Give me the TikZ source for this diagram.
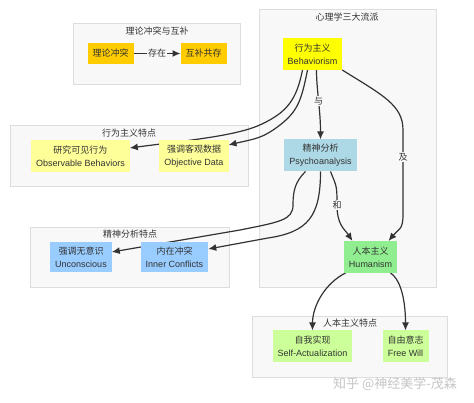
\documentclass[tikz,border=0pt]{standalone}
\usepackage{fontspec}
\setmainfont{Liberation Sans}
\newfontfamily\cjk{Noto Sans CJK SC}
\newcommand\zh[1]{{\cjk #1}}
\usetikzlibrary{positioning,calc,arrows.meta}
\definecolor{ink}{HTML}{333333}
\definecolor{gold}{HTML}{FFCC00}
\definecolor{behav}{HTML}{FFFF00}
\definecolor{psych}{HTML}{ADD8E6}
\definecolor{human}{HTML}{90EE90}
\definecolor{behavsub}{HTML}{FFFF99}
\definecolor{psychsub}{HTML}{99CCFF}
\definecolor{humansub}{HTML}{CCFF99}
\definecolor{groupfill}{HTML}{F8F8F8}
\definecolor{groupline}{HTML}{DDDDDD}
\pgfdeclarelayer{bg}
\pgfdeclarelayer{lines}
\pgfsetlayers{bg,lines,main}

\begin{document}
\begin{tikzpicture}[x=1pt,y=-1pt,
        every node/.style={text=ink,font=\fontsize{9pt}{13pt}\selectfont},
        block/.style={minimum height=21pt,inner xsep=5pt,inner ysep=2pt,outer sep=0pt,align=center},
        twoline/.style={block,minimum height=32pt},
        group/.style={draw=groupline,fill=groupfill,line width=0.6pt},
        edge/.style={draw=ink,line width=1.2pt,-{Latex[length=8pt,width=7pt]}},
        lbl/.style={fill=groupfill,inner sep=1pt}]
   \useasboundingbox (0,0) rectangle (474,403);

   % clusters
   \begin{pgfonlayer}{bg}
   \fill[white] (0,0) rectangle (474,403);
   \draw[group] (73,23) rectangle (240,84);
   \draw[group] (259,9) rectangle (436,287);
   \draw[group] (10,125) rectangle (248,186);
   \draw[group] (30,227) rectangle (229,287);
   \draw[group] (252,316) rectangle (447,377);
   \end{pgfonlayer}
   \node (G0) at (157,31) {\zh{理论冲突与互补}};
   \node (G1) at (347,17) {\zh{心理学三大流派}};
   \node (G2) at (129,133) {\zh{行为主义特点}};
   \node (G3) at (130,234) {\zh{精神分析特点}};
   \node (G4) at (350,323) {\zh{人本主义特点}};

   \node (T1) [block,fill=gold] at (110.5,53.5) {\zh{理论冲突}};
   \node (T2) [block,fill=gold] at (203.5,53.5) {\zh{互补共存}};

   \node (B) [twoline,fill=behav] at (312.5,54) {\zh{行为主义}\\Behaviorism};
   \node (P) [twoline,fill=psych] at (320.5,155.5) {\zh{精神分析}\\Psychoanalysis};
   \node (H) [twoline,fill=human] at (370.5,257) {\zh{人本主义}\\Humanism};

   \node (B1) [twoline,fill=behavsub] at (80.5,156) {\zh{研究可见行为}\\Observable Behaviors};
   \node (B2) [twoline,fill=behavsub] at (194,156) {\zh{强调客观数据}\\Objective Data};
   \node (P1) [twoline,fill=psychsub,minimum height=30pt] at (81,257) {\zh{强调无意识}\\Unconscious};
   \node (P2) [twoline,fill=psychsub,minimum height=30pt] at (174.5,257) {\zh{内在冲突}\\Inner Conflicts};
   \node (H1) [twoline,fill=humansub] at (312.5,346.5) {\zh{自我实现}\\Self-Actualization};
   \node (H2) [twoline,fill=humansub] at (405.5,346.5) {\zh{自由意志}\\Free Will};

   \begin{pgfonlayer}{lines}
   \draw[edge] (T1) -- node[lbl] (L0) {\zh{存在}} (T2);
   \draw[edge] ([xshift=-10pt]B.south) .. controls +(-6,30) and +(25,-12) .. (262,124)
        .. controls +(-25,12) and +(60,-8) .. ([yshift=8pt]B1.east);
   \draw[edge] ([xshift=-5pt]B.south) .. controls +(-6,30) and +(18,-14) .. (280,125)
        .. controls +(-18,14) and +(25,-6) .. ([yshift=11pt]B2.east);
   \draw[edge] ([xshift=4pt]B.south) .. controls +(0,20) and +(0,-30) .. (P.north)
        node[lbl,pos=0.5] (L1) {\zh{与}};
   \draw[edge] (B.south east) .. controls +(40,25) and +(0,-25) .. (403,130)
        -- node[lbl,pos=0.32] (L2) {\zh{及}} (403,215)
        .. controls +(0,15) and +(10,-12) .. ([xshift=18pt]H.north);
   \draw[edge] ([xshift=10pt]P.south) .. controls +(6,15) and +(0,-20) .. (337,205)
        node[lbl] (L3) {\zh{和}}
        .. controls +(0,20) and +(-8,-12) .. ([xshift=-18pt]H.north);
   \draw[edge] ([xshift=-15pt]P.south) .. controls +(-10,10) and +(0,-15) .. (293,205)
        .. controls +(0,15) and +(40,-8) .. (240,230) -- ([yshift=5pt]P1.east);
   \draw[edge] (P.south) .. controls +(0,45) and +(40,-6) .. (268,238) -- ([yshift=8pt]P2.east);
   \draw[edge] ([xshift=-25pt]H.south) .. controls +(-20,10) and +(0,-25) .. (H1.north);
   \draw[edge] ([xshift=20pt]H.south) .. controls +(12,8) and +(0,-25) .. (H2.north);
   \end{pgfonlayer}

   \node (W) [text=gray!45,font=\fontsize{13pt}{15pt}\selectfont] at (395,384) {\zh{知乎 @神经美学-茂森}};
\end{tikzpicture}
\end{document}
